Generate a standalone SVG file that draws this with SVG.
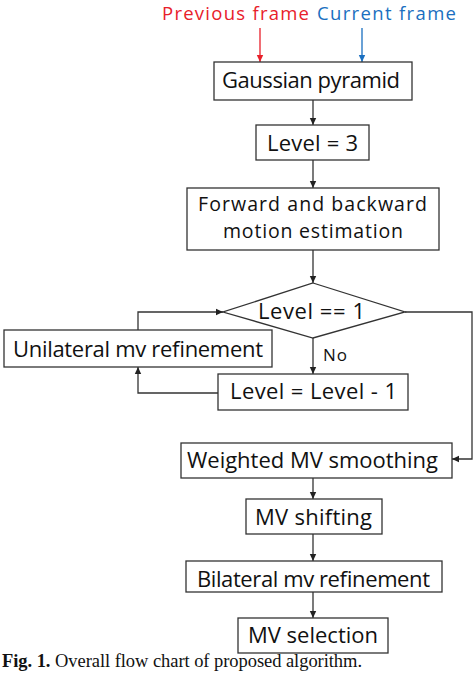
<svg xmlns="http://www.w3.org/2000/svg" width="474" height="678" viewBox="0 0 474 678">
<style>
.box{fill:#fff;stroke:#333;stroke-width:1.3}
.t{font-family:"Open Sans","Noto Sans",sans-serif;font-size:22px;fill:#111;text-anchor:middle}
.c{fill:none;stroke:#333;stroke-width:1.3}
</style>
<defs>
<marker id="a" markerWidth="8" markerHeight="8" refX="7" refY="4" orient="auto" markerUnits="userSpaceOnUse"><path d="M0,0.8 L7,4 L0,7.2 Z" fill="#222"/></marker>
<marker id="ar" markerWidth="8" markerHeight="8" refX="7" refY="4" orient="auto" markerUnits="userSpaceOnUse"><path d="M0,0.8 L7,4 L0,7.2 Z" fill="#e8202a"/></marker>
<marker id="ab" markerWidth="8" markerHeight="8" refX="7" refY="4" orient="auto" markerUnits="userSpaceOnUse"><path d="M0,0.8 L7,4 L0,7.2 Z" fill="#1a6fc0"/></marker>
</defs>
<rect width="474" height="678" fill="#fff"/>
<g id="inputs">
<text x="235.5" y="20" class="t" style="fill:#e8202a;font-size:18.5px" textLength="147">Previous frame</text>
<text x="386.5" y="20" class="t" style="fill:#1a6fc0;font-size:18.5px" textLength="139">Current frame</text>
</g>
<g id="connectors">
<line x1="260" y1="28" x2="260" y2="62" stroke="#e8202a" stroke-width="1.3" marker-end="url(#ar)"/>
<line x1="362" y1="28" x2="362" y2="62" stroke="#1a6fc0" stroke-width="1.3" marker-end="url(#ab)"/>
<line x1="313" y1="100" x2="313" y2="125" class="c" marker-end="url(#a)"/>
<line x1="313" y1="160" x2="313" y2="188" class="c" marker-end="url(#a)"/>
<line x1="313" y1="250" x2="313" y2="283" class="c" marker-end="url(#a)"/>
<line x1="313" y1="338" x2="313" y2="374" class="c" marker-end="url(#a)"/>
<polyline points="138,330 138,312 223,312" class="c" marker-end="url(#a)"/>
<polyline points="218,393 138,393 138,367" class="c" marker-end="url(#a)"/>
<polyline points="405,312 472,312 472,459 452,459" class="c" marker-end="url(#a)"/>
<line x1="313" y1="478" x2="313" y2="499" class="c" marker-end="url(#a)"/>
<line x1="313" y1="534" x2="313" y2="561" class="c" marker-end="url(#a)"/>
<line x1="313" y1="592" x2="313" y2="618" class="c" marker-end="url(#a)"/>
<text x="323" y="361" style="font-family:'Open Sans','Noto Sans',sans-serif;font-size:17px;fill:#111" textLength="24">No</text>
</g>
<g id="gaussian"><rect x="214" y="62" width="198" height="38" class="box"/><text x="311" y="88" class="t" textLength="178">Gaussian pyramid</text></g>
<g id="level3"><rect x="256" y="125" width="113" height="35" class="box"/><text x="312.5" y="151" class="t" textLength="91">Level = 3</text></g>
<g id="forward"><rect x="187" y="188" width="252" height="62" class="box"/><text x="312.5" y="211" class="t" style="font-size:19.5px" textLength="229">Forward and backward</text><text x="313" y="238" class="t" style="font-size:19.5px" textLength="180">motion estimation</text></g>
<g id="decision"><polygon points="313,283 405,312 313,338 223,312" class="box"/><text x="311.5" y="319" class="t" textLength="107">Level == 1</text></g>
<g id="unilateral"><rect x="4" y="330" width="268" height="37" class="box"/><text x="138" y="357" class="t" textLength="250">Unilateral mv refinement</text></g>
<g id="decrement"><rect x="218" y="374" width="190" height="36" class="box"/><text x="313.5" y="399" class="t" textLength="167">Level = Level - 1</text></g>
<g id="smoothing"><rect x="181" y="443" width="271" height="35" class="box"/><text x="312.5" y="468" class="t" textLength="251">Weighted MV smoothing</text></g>
<g id="shifting"><rect x="246" y="499" width="136" height="35" class="box"/><text x="313.5" y="525" class="t" textLength="117">MV shifting</text></g>
<g id="bilateral"><rect x="186" y="561" width="256" height="31" class="box"/><text x="313.5" y="587" class="t" textLength="233">Bilateral mv refinement</text></g>
<g id="selection"><rect x="238" y="618" width="150" height="35" class="box"/><text x="313" y="643" class="t" textLength="130">MV selection</text></g>
<text x="2" y="667" style="font-family:'Liberation Serif',serif;font-size:18.5px;fill:#111" textLength="360"><tspan font-weight="bold">Fig. 1.</tspan> Overall flow chart of proposed algorithm.</text>
</svg>
